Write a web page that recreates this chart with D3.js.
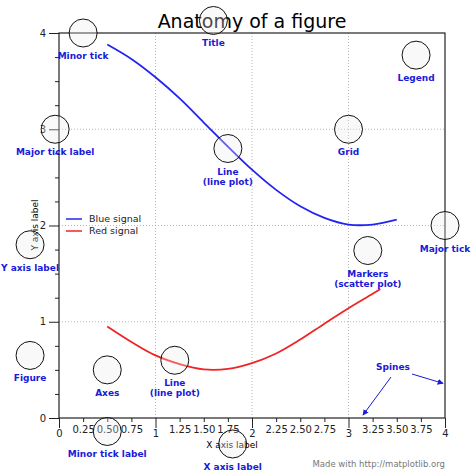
<!DOCTYPE html>
<html><head><meta charset="utf-8">
<script src="https://cdn.jsdelivr.net/npm/d3@7"></script>
<style>body{margin:0;background:#fff}svg{font-family:"DejaVu Sans",sans-serif}</style>
</head><body>
<div id="chart"></div>
<script>
const blueX = [0.5,0.75,1.0,1.25,1.5,1.75,2.0,2.25,2.5,2.75,3.0,3.25,3.5];
const blueY = [3.88,3.73,3.54,3.32,3.07,2.82,2.58,2.37,2.20,2.08,2.01,2.01,2.06];
const redX = [0.5,0.75,1.0,1.25,1.5,1.75,2.0,2.25,2.5,2.75,3.0,3.25,3.33];
const redY = [0.95,0.79,0.65,0.56,0.505,0.51,0.57,0.67,0.815,0.98,1.14,1.29,1.34];
const majorTicks = [0,1,2,3,4];
const minorTicks = [0.25,0.5,0.75,1.25,1.5,1.75,2.25,2.5,2.75,3.25,3.5,3.75];
// annotations: [x, y, label lines] in data coords
const notes = [
  [0.25,4.0,["Minor tick"]],
  [1.6,4.13,["Title"]],
  [3.7,3.77,["Legend"]],
  [-0.04,3.0,["Major tick label"]],
  [3.0,3.0,["Grid"]],
  [1.75,2.8,["Line","(line plot)"]],
  [4.0,2.0,["Major tick"]],
  [3.2,1.74,["Markers","(scatter plot)"]],
  [-0.3,1.8,["Y axis label"]],
  [-0.3,0.65,["Figure"]],
  [0.5,0.5,["Axes"]],
  [1.2,0.6,["Line","(line plot)"]],
  [0.5,-0.14,["Minor tick label"]],
  [1.8,-0.27,["X axis label"]]
];

const W=474,H=476,M={top:33,right:29,bottom:58,left:59};
const svg=d3.select("#chart").append("svg").attr("width",W).attr("height",H);
const x=d3.scaleLinear().domain([0,4]).range([M.left,W-M.right]);
const y=d3.scaleLinear().domain([0,4]).range([H-M.bottom,M.top]);

// grid
const grid=svg.append("g").attr("stroke","#888").attr("stroke-width",0.6).attr("stroke-dasharray","1,2");
grid.selectAll(".gx").data(majorTicks.slice(1,4)).join("line").attr("x1",d=>x(d)).attr("x2",d=>x(d)).attr("y1",y(0)).attr("y2",y(4));
grid.selectAll(".gy").data(majorTicks.slice(1,4)).join("line").attr("y1",d=>y(d)).attr("y2",d=>y(d)).attr("x1",x(0)).attr("x2",x(4));

// axes
const fmtMinor=d3.format(".2f");
const gx=svg.append("g").attr("transform",`translate(0,${y(0)})`)
  .call(d3.axisBottom(x).tickValues(majorTicks).tickSize(10).tickPadding(2).tickFormat(d3.format("d")));
const gxm=svg.append("g").attr("transform",`translate(0,${y(0)})`)
  .call(d3.axisBottom(x).tickValues(minorTicks).tickSize(4).tickPadding(4).tickFormat(fmtMinor));
const gy=svg.append("g").attr("transform",`translate(${x(0)},0)`)
  .call(d3.axisLeft(y).tickValues(majorTicks).tickSize(10).tickPadding(3).tickFormat(d3.format("d")));
const gym=svg.append("g").attr("transform",`translate(${x(0)},0)`)
  .call(d3.axisLeft(y).tickValues(d3.range(0.25,4,0.25).filter(v=>v%1)).tickSize(4).tickFormat(""));
[gx,gxm,gy,gym].forEach(g=>{g.select(".domain").remove();g.selectAll("text").attr("font-size",10).attr("fill","#222").attr("font-family","DejaVu Sans");g.selectAll("line").attr("stroke","#222");});
svg.append("rect").attr("x",x(0)).attr("y",y(4)).attr("width",x(4)-x(0)).attr("height",y(0)-y(4))
  .attr("fill","none").attr("stroke","#222").attr("stroke-width",1.2);

// lines
const line=d3.line().x(d=>x(d[0])).y(d=>y(d[1])).curve(d3.curveCatmullRom);
svg.append("path").datum(d3.zip(blueX,blueY)).attr("fill","none").attr("stroke","#2424f0").attr("stroke-width",1.8).attr("d",line);
svg.append("path").datum(d3.zip(redX,redY)).attr("fill","none").attr("stroke","#f02424").attr("stroke-width",1.8).attr("d",line);

// legend
const lg=svg.append("g").attr("font-size",9.5).attr("fill","#222");
[["Blue signal","#2424f0"],["Red signal","#f02424"]].forEach((d,i)=>{
  const yy=219+i*12;
  lg.append("line").attr("x1",66).attr("x2",82).attr("y1",yy).attr("y2",yy).attr("stroke",d[1]).attr("stroke-width",1.5);
  lg.append("text").attr("x",89).attr("y",yy+3).text(d[0]);
});

// title and labels
svg.append("text").attr("x",252).attr("y",28).attr("text-anchor","middle").attr("font-size",19).text("Anatomy of a figure");
svg.append("text").attr("x",232).attr("y",448).attr("text-anchor","middle").attr("font-size",9).text("X axis label");
svg.append("text").attr("transform","translate(38,225) rotate(-90)").attr("text-anchor","middle").attr("font-size",9).text("Y axis label");
svg.append("text").attr("x",445).attr("y",467).attr("text-anchor","end").attr("font-size",8.5).attr("fill","#777").text("Made with http://matplotlib.org");

// annotations
const an=svg.append("g");
notes.forEach(([nx,ny,lab])=>{
  const cx=x(nx),cy=y(ny);
  an.append("circle").attr("cx",cx).attr("cy",cy).attr("r",14).attr("fill","rgba(235,235,235,0.3)").attr("stroke","#111").attr("stroke-width",1);
  lab.forEach((t,i)=>an.append("text").attr("x",cx).attr("y",cy+26+i*10).attr("text-anchor","middle")
    .attr("font-size",9).attr("font-weight","bold").attr("fill","#1a1ad8").text(t));
});
svg.append("text").attr("x",393).attr("y",370).attr("text-anchor","middle").attr("font-size",9).attr("font-weight","bold").attr("fill","#1a1ad8").text("Spines");
svg.append("defs").append("marker").attr("id","ah").attr("viewBox","0 0 10 10").attr("refX",9).attr("refY",5)
  .attr("markerWidth",6).attr("markerHeight",6).attr("orient","auto").append("path").attr("d","M0,0L10,5L0,10z").attr("fill","#1a1ad8");
[[391,377,x(3.15),y(0.03)],[412,374,x(3.98),y(0.36)]].forEach(a=>
  svg.append("line").attr("x1",a[0]).attr("y1",a[1]).attr("x2",a[2]).attr("y2",a[3]).attr("stroke","#1a1ad8").attr("stroke-width",1).attr("marker-end","url(#ah)"));
</script>
</body></html>
